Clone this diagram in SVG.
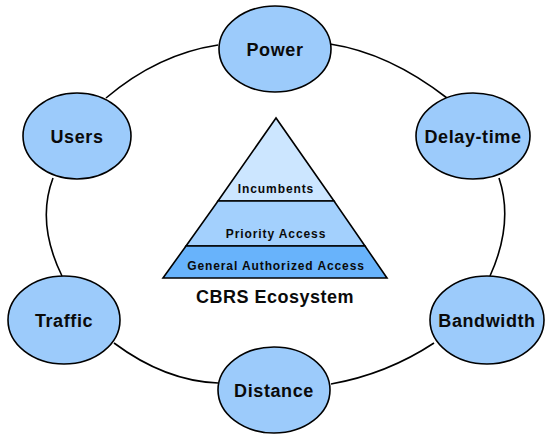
<svg xmlns="http://www.w3.org/2000/svg" width="550" height="438" viewBox="0 0 550 438">
<style>
.node ellipse{fill:#9ccbfb;stroke:#000;stroke-width:1.6}
.node text{font-family:"Liberation Sans",Arial,sans-serif;font-weight:bold;font-size:18px;letter-spacing:0.6px;fill:#0a0a0a;text-anchor:middle}
.conn path{fill:none;stroke:#000;stroke-width:1.6}
.pyr polygon{stroke:#000;stroke-width:1.6}
.pyr text{font-family:"Liberation Sans",Arial,sans-serif;font-weight:bold;font-size:12px;letter-spacing:0.9px;fill:#0a0a0a;text-anchor:middle}
.title{font-family:"Liberation Sans",Arial,sans-serif;font-weight:bold;font-size:18px;letter-spacing:0.5px;fill:#0a0a0a;text-anchor:middle}
</style>
<rect width="550" height="438" fill="#fff"/>
<g id="connectors" class="conn">
<path d="M106,98 Q158,54 218,45"/>
<path d="M330,44 Q389,53 447,98"/>
<path d="M53,178 Q36,223 62,276"/>
<path d="M499,178 Q514,223 490,276"/>
<path d="M114,343 Q165,381 218,383"/>
<path d="M331,384 Q387,374 434,343"/>
</g>
<g id="pyramid" class="pyr">
<polygon points="276,118 218,201 334,201" fill="#cce6ff"/>
<polygon points="218,201 334,201 365,246 186,246" fill="#a3d0fd"/>
<polygon points="186,246 365,246 387,278 163,278" fill="#68b3fb"/>
<text x="276" y="193">Incumbents</text>
<text x="276" y="238">Priority Access</text>
<text x="276" y="270">General Authorized Access</text>
</g>
<text id="title" class="title" x="275" y="303">CBRS Ecosystem</text>
<g id="node-power" class="node"><ellipse cx="275" cy="49" rx="56" ry="43"/><text x="275" y="56">Power</text></g>
<g id="node-users" class="node"><ellipse cx="77" cy="136" rx="54" ry="43"/><text x="77" y="143">Users</text></g>
<g id="node-delay" class="node"><ellipse cx="473" cy="136" rx="57" ry="43"/><text x="473" y="143">Delay-time</text></g>
<g id="node-traffic" class="node"><ellipse cx="64" cy="320" rx="56" ry="44"/><text x="64" y="327">Traffic</text></g>
<g id="node-bandwidth" class="node"><ellipse cx="487" cy="320" rx="57" ry="44"/><text x="487" y="327">Bandwidth</text></g>
<g id="node-distance" class="node"><ellipse cx="274" cy="390" rx="56" ry="43"/><text x="274" y="397">Distance</text></g>
</svg>
